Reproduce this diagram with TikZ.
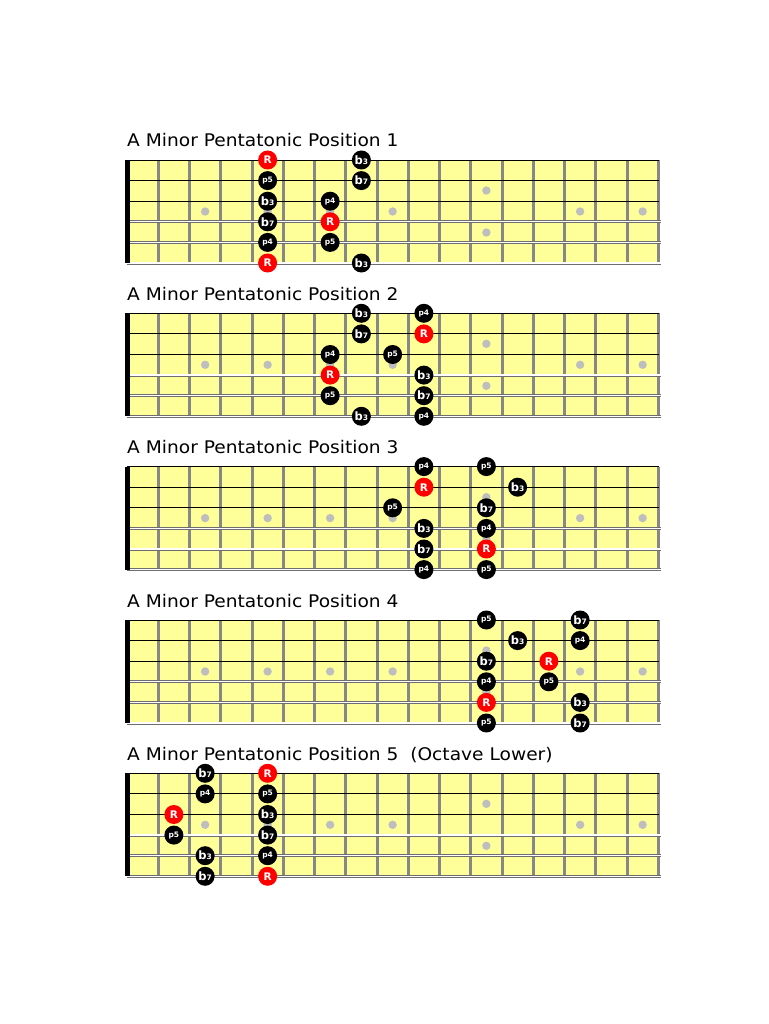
\documentclass[tikz,border=0pt]{standalone}
\usepackage{fontspec}
\usepackage{graphicx}
\setmainfont{DejaVu Sans}

\definecolor{boardyellow}{HTML}{FFFF99}
\definecolor{fretgray}{HTML}{878787}
\definecolor{dotgray}{HTML}{BEBEBE}
\definecolor{rootred}{HTML}{FF0000}
\definecolor{woundgray}{HTML}{6E6E6E}

\newcommand{\rt}{{\fontsize{10.5}{10.5}\selectfont R}}
\newcommand{\fl}[1]{{\fontsize{11.5}{11.5}\selectfont b}{\fontsize{7.5}{7.5}\selectfont #1}}
\newcommand{\pl}[1]{{\fontsize{7.5}{7.5}\selectfont p#1}}
\newcommand{\wide}[1]{\scalebox{1.07}[1]{#1}}

\tikzset{
  note/.style={circle, fill=#1, text=white, inner sep=0pt, minimum size=19pt, font=\bfseries},
  boardtitle/.style={anchor=base west, inner sep=0pt, font=\fontsize{17.4}{17.4}\selectfont},
}

\begin{document}
\begin{tikzpicture}[x=1pt, y=-1pt]
\useasboundingbox (0,0) rectangle (768,1024);
\fill[white] (0,0) rectangle (768,1024);

% the five fretboards
\foreach \yo/\num in {160/1, 313.3/2, 466.6/3, 620/4, 773.3/5}{
  \fill[boardyellow] (127,\yo) rectangle (659,\yo+103);
  \foreach \f in {1,...,17}
     \draw[fretgray, line width=3pt] ({127+31.25*\f},\yo) -- ({127+31.25*\f},\yo+103);
  \foreach \f in {3,5,7,9,15,17}
     \fill[dotgray] ({127+31.25*(\f-0.5)},\yo+51.5) circle (4.2);
  \fill[dotgray] ({127+31.25*11.5},\yo+30.5) circle (4.2);
  \fill[dotgray] ({127+31.25*11.5},\yo+72.5) circle (4.2);
  \foreach \s in {0,1,2}
     \draw[black, line width=0.9pt] (127,\yo+20.6*\s) -- (659,\yo+20.6*\s);
  \foreach \s in {3,4,5}{
     \draw[woundgray, line width=3pt] (127,\yo+20.6*\s) -- (661,\yo+20.6*\s);
     \draw[white, line width=1.3pt] (127,\yo+20.6*\s) -- (660.5,\yo+20.6*\s);
  }
  \fill[black] (125,\yo) rectangle (129.5,\yo+103);
}

% titles
\node[boardtitle] (t1) at (127,147) {\wide{A Minor Pentatonic Position 1}};
\node[boardtitle] (t2) at (127,300.3) {\wide{A Minor Pentatonic Position 2}};
\node[boardtitle] (t3) at (127,453.6) {\wide{A Minor Pentatonic Position 3}};
\node[boardtitle] (t4) at (127,607) {\wide{A Minor Pentatonic Position 4}};
\node[boardtitle] (t5) at (127,760.3) {\wide{A Minor Pentatonic Position 5\ \ (Octave Lower)}};

% position 1
\foreach \s/\f/\c/\lab in {1/5/rootred/\rt, 1/8/black/\fl3, 2/5/black/\pl5, 2/8/black/\fl7,
    3/5/black/\fl3, 3/7/black/\pl4, 4/5/black/\fl7, 4/7/rootred/\rt,
    5/5/black/\pl4, 5/7/black/\pl5, 6/5/rootred/\rt, 6/8/black/\fl3}
  \node[note=\c] (n1-\s-\f) at ({127+31.25*(\f-0.5)},{160+20.6*(\s-1)}) {\lab};

% position 2
\foreach \s/\f/\c/\lab in {1/8/black/\fl3, 1/10/black/\pl4, 2/8/black/\fl7, 2/10/rootred/\rt,
    3/7/black/\pl4, 3/9/black/\pl5, 4/7/rootred/\rt, 4/10/black/\fl3,
    5/7/black/\pl5, 5/10/black/\fl7, 6/8/black/\fl3, 6/10/black/\pl4}
  \node[note=\c] (n2-\s-\f) at ({127+31.25*(\f-0.5)},{313.3+20.6*(\s-1)}) {\lab};

% position 3
\foreach \s/\f/\c/\lab in {1/10/black/\pl4, 1/12/black/\pl5, 2/10/rootred/\rt, 2/13/black/\fl3,
    3/9/black/\pl5, 3/12/black/\fl7, 4/10/black/\fl3, 4/12/black/\pl4,
    5/10/black/\fl7, 5/12/rootred/\rt, 6/10/black/\pl4, 6/12/black/\pl5}
  \node[note=\c] (n3-\s-\f) at ({127+31.25*(\f-0.5)},{466.6+20.6*(\s-1)}) {\lab};

% position 4
\foreach \s/\f/\c/\lab in {1/12/black/\pl5, 1/15/black/\fl7, 2/13/black/\fl3, 2/15/black/\pl4,
    3/12/black/\fl7, 3/14/rootred/\rt, 4/12/black/\pl4, 4/14/black/\pl5,
    5/12/rootred/\rt, 5/15/black/\fl3, 6/12/black/\pl5, 6/15/black/\fl7}
  \node[note=\c] (n4-\s-\f) at ({127+31.25*(\f-0.5)},{620+20.6*(\s-1)}) {\lab};

% position 5
\foreach \s/\f/\c/\lab in {1/3/black/\fl7, 1/5/rootred/\rt, 2/3/black/\pl4, 2/5/black/\pl5,
    3/2/rootred/\rt, 3/5/black/\fl3, 4/2/black/\pl5, 4/5/black/\fl7,
    5/3/black/\fl3, 5/5/black/\pl4, 6/3/black/\fl7, 6/5/rootred/\rt}
  \node[note=\c] (n5-\s-\f) at ({127+31.25*(\f-0.5)},{773.3+20.6*(\s-1)}) {\lab};

\end{tikzpicture}
\end{document}
